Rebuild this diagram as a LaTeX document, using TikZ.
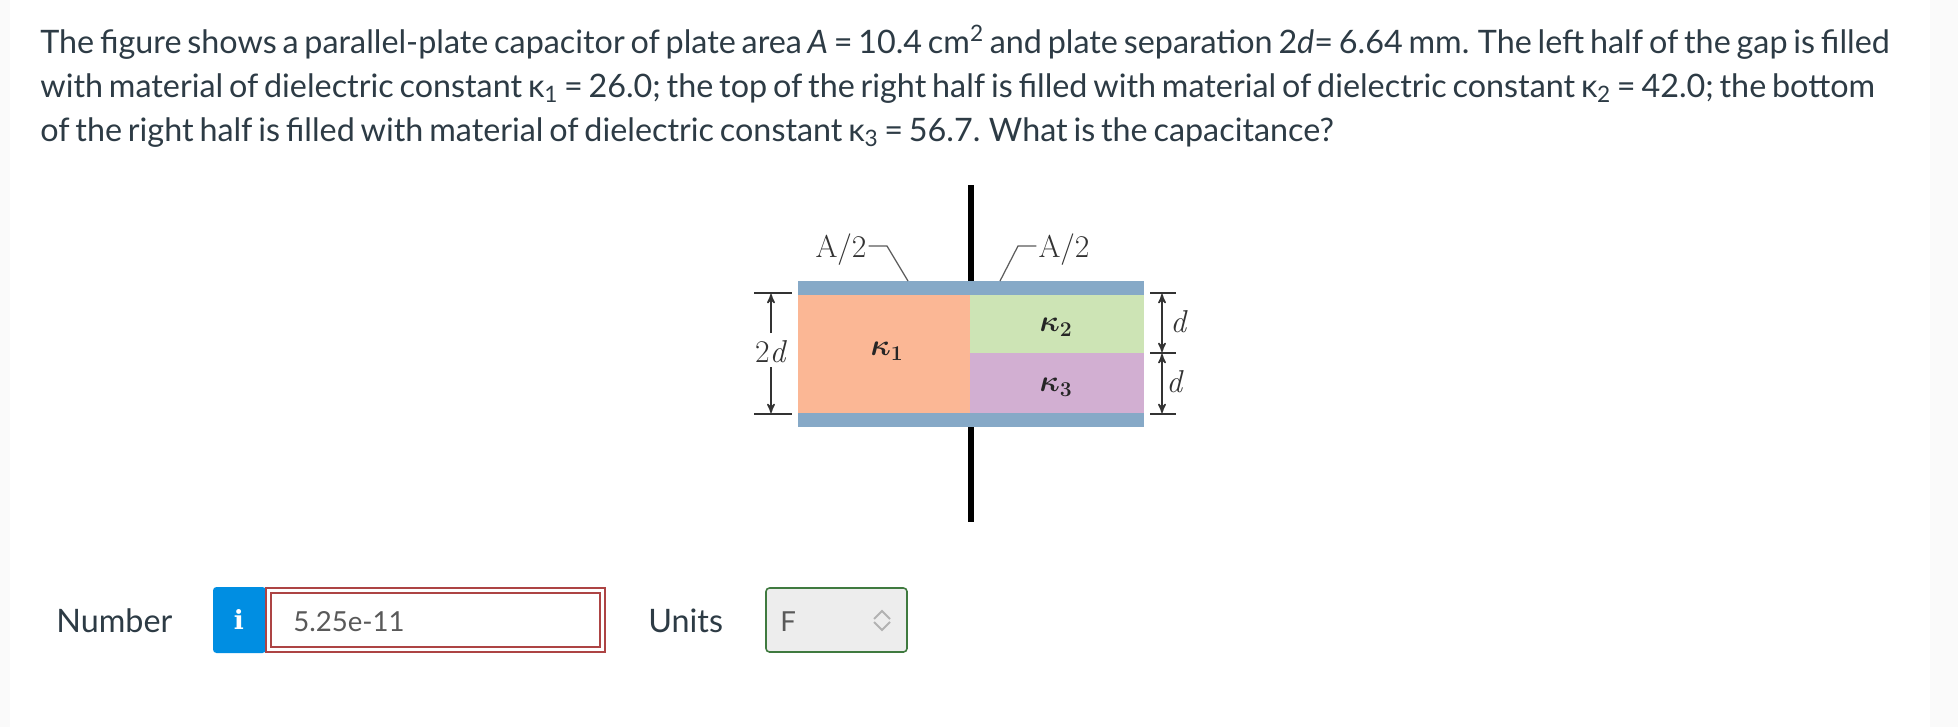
\documentclass[tikz,border=0pt]{standalone}
\usepackage{fontspec}
\setmainfont[WordSpace=0.7]{Lato}
\newfontfamily\figfont{Latin Modern Roman}
\newfontfamily\iconfont{DejaVu Serif}
\usetikzlibrary{arrows}
\usetikzlibrary{positioning}
\definecolor{inktext}{HTML}{2D3B45}
\definecolor{sideband}{HTML}{FAFAFA}
\definecolor{platecol}{HTML}{86A9C7}
\definecolor{kappaone}{HTML}{FBB795}
\definecolor{kappatwo}{HTML}{CDE4B5}
\definecolor{kappathree}{HTML}{D2AFD2}
\definecolor{figink}{HTML}{333333}
\definecolor{infoblue}{HTML}{008EE2}
\definecolor{wrongred}{HTML}{AD4444}
\definecolor{rightgreen}{HTML}{3F7A3F}
\tikzset{
  textline/.style={anchor=base west, inner sep=0pt, text=inktext, font=\fontsize{18.4}{22}\selectfont},
  inputtext/.style={anchor=base west, inner sep=0pt, text=black!65, font=\fontsize{15.7}{19}\selectfont},
  figlabel/.style={inner sep=1pt, text=figink, font=\figfont\fontsize{18}{21}\selectfont},
  kappalabel/.style={inner sep=1pt, text=black!85, font=\figfont\boldmath\fontsize{17.5}{21}\selectfont},
  tick/.style={draw=figink, line width=0.9pt},
  dimarrow/.style={draw=figink, line width=0.9pt, >=stealth'},
  leader/.style={draw=figink!80, line width=0.7pt},
  lead/.style={draw=black, line width=3.4pt},
  chevron/.style={draw=black!30, line width=1.1pt}
}
\begin{document}
\begin{tikzpicture}[x=0.02cm, y=-0.02cm]
\useasboundingbox (0,0) rectangle (1958,727);
\fill[white] (0,0) rectangle (1958,727);
\fill[sideband] (0,0) rectangle (10,727);
\fill[sideband] (1930,0) rectangle (1958,727);
\node[textline] (line1) at (40,53) {The figure shows a parallel-plate capacitor of plate area \textit{A} = 10.4 cm\textsuperscript{2} and plate separation 2\textit{d}= 6.64 mm. The left half of the gap is filled};
\node[textline] (line2) at (40,97) {with material of dielectric constant κ\textsubscript{1} = 26.0; the top of the right half is filled with material of dielectric constant κ\textsubscript{2} = 42.0; the bottom};
\node[textline] (line3) at (40,141) {of the right half is filled with material of dielectric constant κ\textsubscript{3} = 56.7. What is the capacitance?};
\coordinate (leadtop) at (971,185);
\coordinate (platetop) at (971,281);
\coordinate (platebot) at (971,427);
\coordinate (leadbot) at (971,522);
\draw[lead] (leadtop) -- (platetop);
\draw[lead] (platebot) -- (leadbot);
\fill[kappaone] (798,295) rectangle (970,413);
\fill[kappatwo] (970,295) rectangle (1144,353);
\fill[kappathree] (970,353) rectangle (1144,413);
\fill[platecol] (798,281) rectangle (1144,295);
\fill[platecol] (798,413) rectangle (1144,427);
\node[kappalabel] (k1) at (887,351) {$\kappa_1$};
\node[kappalabel] (k2) at (1056,327) {$\kappa_2$};
\node[kappalabel] (k3) at (1056,387) {$\kappa_3$};
\node[figlabel] (areaL) at (841,250) {A/2};
\node[figlabel] (areaR) at (1064,250) {A/2};
\coordinate (bendL) at (887,246);
\coordinate (footL) at (908,281);
\coordinate (bendR) at (1018,246);
\coordinate (footR) at (1000,281);
\draw[leader] (areaL.east |- bendL) -- (bendL) -- (footL);
\draw[leader] (areaR.west |- bendR) -- (bendR) -- (footR);
\coordinate (tl1) at (754,293);
\coordinate (tl2) at (792,293);
\coordinate (bl1) at (754,414);
\coordinate (bl2) at (792,414);
\coordinate (tr1) at (1150,293);
\coordinate (tr2) at (1176,293);
\coordinate (mr1) at (1150,353);
\coordinate (mr2) at (1176,353);
\coordinate (br1) at (1150,414);
\coordinate (br2) at (1176,414);
\draw[tick] (tl1) -- (tl2);
\draw[tick] (bl1) -- (bl2);
\draw[tick] (tr1) -- (tr2);
\draw[tick] (mr1) -- (mr2);
\draw[tick] (br1) -- (br2);
\node[figlabel] (twod) at (771,352) {2\textit{d}};
\coordinate (at) at (771,294);
\coordinate (ab) at (771,413);
\coordinate (as) at (771,333);
\coordinate (bs) at (771,367);
\draw[dimarrow,->] (as) -- (at);
\draw[dimarrow,->] (bs) -- (ab);
\coordinate (r1) at (1162,294);
\coordinate (r2) at (1162,352);
\coordinate (r3) at (1162,354);
\coordinate (r4) at (1162,413);
\draw[dimarrow,<->] (r1) -- (r2);
\draw[dimarrow,<->] (r3) -- (r4);
\node[figlabel] (d1) at (1179,322) {\textit{d}};
\node[figlabel] (d2) at (1175,382) {\textit{d}};
\node[textline] (number) at (56,632) {Number};
\fill[infoblue, rounded corners=2pt] (213,587) rectangle (266,653);
\node[text=white, inner sep=0pt, font=\iconfont\bfseries\fontsize{15}{17}\selectfont] (info) at (239,619) {i};
\draw[wrongred, line width=1.6pt] (266,588) rectangle (605,652);
\draw[wrongred, line width=1.6pt] (271,593) rectangle (600,647);
\node[inputtext] (value) at (293,631) {5.25e-11};
\node[textline] (units) at (648,632) {Units};
\draw[rightgreen, fill=black!7, line width=0.9pt, rounded corners=2pt] (766,588) rectangle (907,652);
\node[inputtext] (unit) at (780,631) {F};
\coordinate (upa) at (874,619);
\coordinate (upb) at (882,611);
\coordinate (upc) at (890,619);
\coordinate (dna) at (874,622);
\coordinate (dnb) at (882,630);
\coordinate (dnc) at (890,622);
\draw[chevron] (upa) -- (upb) -- (upc);
\draw[chevron] (dna) -- (dnb) -- (dnc);
\end{tikzpicture}
\end{document}
